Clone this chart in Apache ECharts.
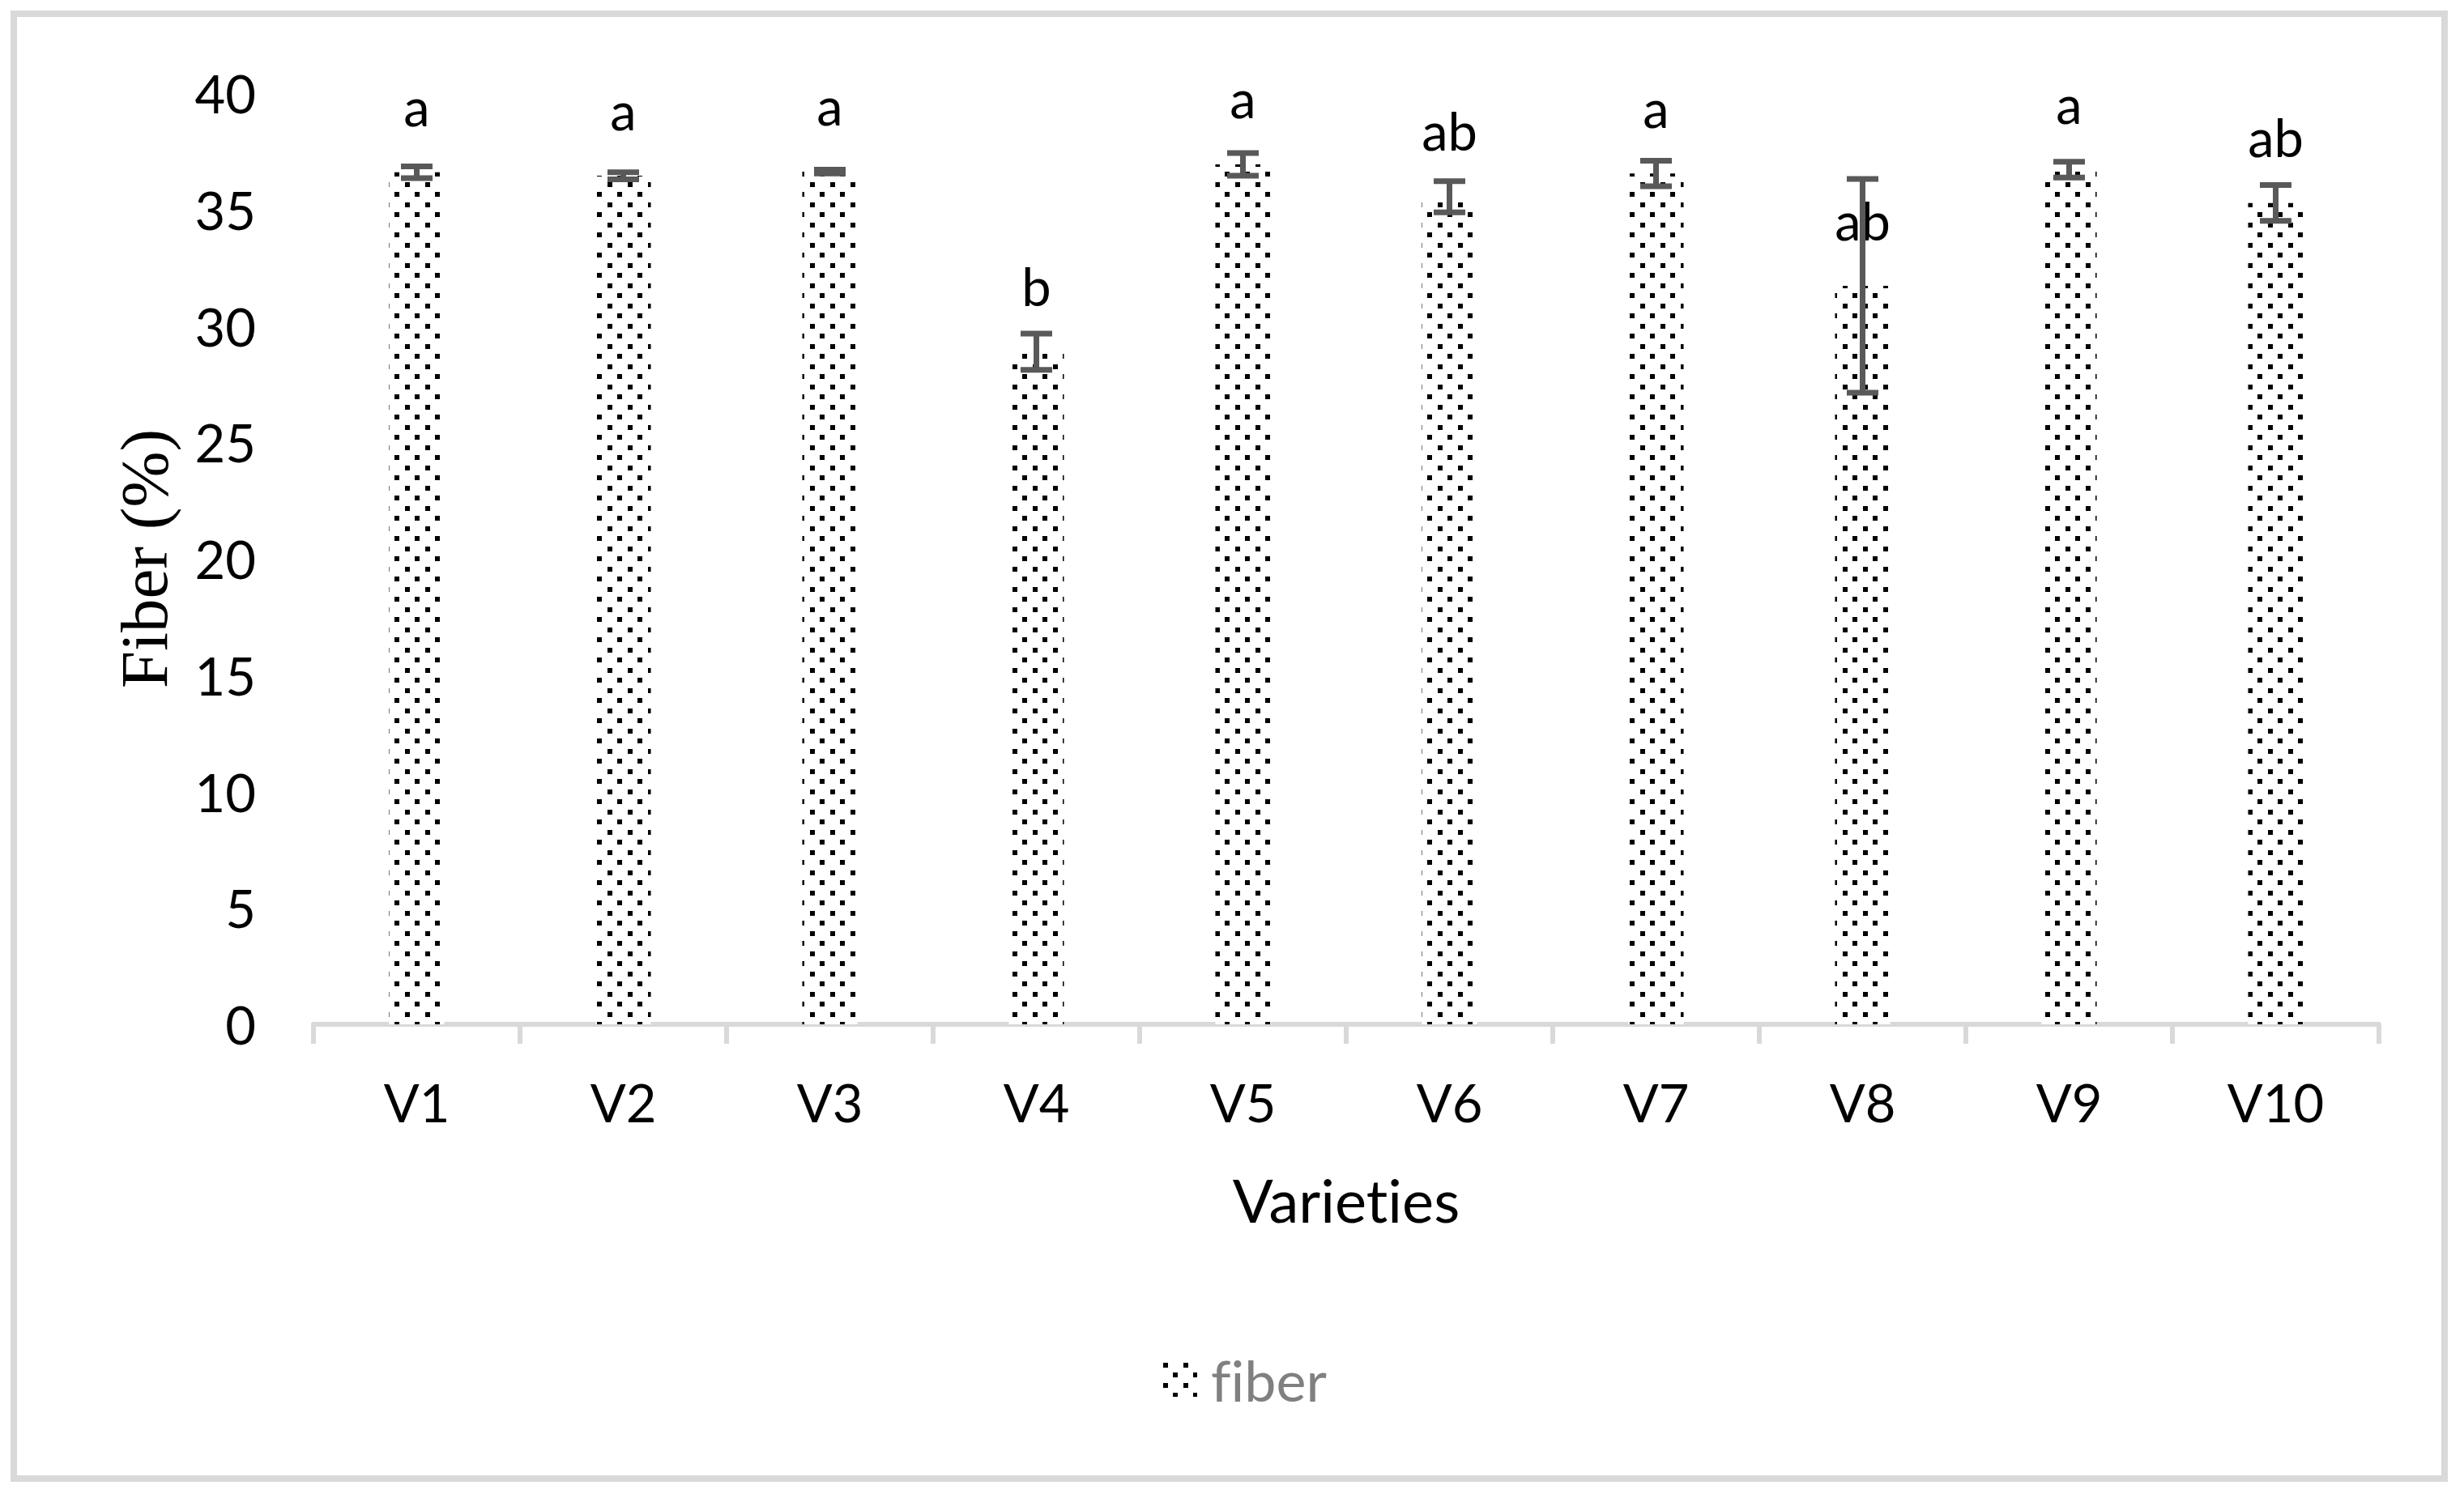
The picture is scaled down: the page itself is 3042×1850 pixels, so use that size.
<!DOCTYPE html>
<html>
<head>
<meta charset="utf-8">
<script src="https://cdn.jsdelivr.net/npm/echarts@6/dist/echarts.min.js"></script>
<style>
html,body{margin:0;padding:0;background:#fff;}
#chart{width:3042px;height:1850px;}
#chart text{font-variant-ligatures:none !important;font-feature-settings:"liga" 0,"clig" 0 !important;}
</style>
</head>
<body>
<div id="chart"></div>
<script>
const categories = ['V1','V2','V3','V4','V5','V6','V7','V8','V9','V10'];
const fiberMeans = [36.60, 36.45, 36.63, 28.89, 36.94, 35.55, 36.55, 31.72, 36.71, 35.28];
const fiberErrors = [0.25, 0.15, 0.08, 0.78, 0.49, 0.67, 0.55, 4.59, 0.34, 0.77];
const groupLetters = ['a','a','a','b','a','ab','a','ab','a','ab'];
const yAxisMin = 0, yAxisMax = 40, yAxisStep = 5;

// dotted fill pattern
const pat = document.createElement('canvas');
pat.width = 25; pat.height = 25;
const pctx = pat.getContext('2d');
pctx.fillStyle = '#ffffff';
pctx.fillRect(0, 0, 25, 25);
pctx.fillStyle = '#000000';
pctx.fillRect(0, 0, 6, 6);
pctx.fillRect(12, 12, 6, 6);
const patURL = pat.toDataURL();

const chart = echarts.init(document.getElementById('chart'), null, {renderer: 'svg'});
const font = 'Lato';
chart.setOption({
  animation: false,
  backgroundColor: '#ffffff',
  graphic: [{
    type: 'rect',
    shape: {x: 17, y: 17, width: 3001, height: 1809},
    style: {fill: 'none', stroke: '#d9d9d9', lineWidth: 8},
    silent: true
  }],
  grid: {left: 387, right: 105, top: 115, bottom: 585},
  legend: {
    data: ['fiber'],
    left: 1431,
    top: 1664,
    icon: 'rect',
    itemWidth: 42,
    itemHeight: 42,
    textStyle: {fontFamily: font, fontSize: 70, color: '#808080', padding: [0, 0, 0, 12]}
  },
  xAxis: {
    type: 'category',
    data: categories,
    name: 'Varieties',
    nameLocation: 'middle',
    nameGap: 179,
    nameTextStyle: {fontFamily: font, fontSize: 74, color: '#000'},
    axisLine: {lineStyle: {color: '#d9d9d9', width: 6}},
    axisTick: {show: true, length: 24, lineStyle: {color: '#d9d9d9', width: 6}},
    axisLabel: {fontFamily: font, fontSize: 65, color: '#000', margin: 63},
    splitLine: {show: false}
  },
  yAxis: {
    type: 'value',
    min: yAxisMin,
    max: yAxisMax,
    interval: yAxisStep,
    name: 'Fiber (%)',
    nameLocation: 'middle',
    nameGap: 168,
    nameTextStyle: {fontFamily: 'Liberation Serif', fontSize: 83, color: '#000'},
    axisLine: {show: false},
    axisTick: {show: false},
    axisLabel: {fontFamily: font, fontSize: 65, color: '#000', margin: 71},
    splitLine: {show: false}
  },
  series: [
    {
      name: 'fiber',
      type: 'bar',
      data: fiberMeans,
      barWidth: '26.7%',
      itemStyle: {color: {image: patURL, repeat: 'repeat'}},
      label: {
        show: true,
        position: 'top',
        distance: 49,
        fontFamily: font,
        fontSize: 65,
        color: '#000',
        formatter: p => groupLetters[p.dataIndex]
      },
      z: 2
    },
    {
      name: 'err',
      type: 'custom',
      data: categories.map((c, i) => [i, fiberMeans[i], fiberErrors[i]]),
      encode: {x: 0, y: 1},
      z: 3,
      renderItem: function (params, api) {
        const x = api.value(0), v = api.value(1), e = api.value(2);
        const t = api.coord([x, v + e]);
        const b = api.coord([x, v - e]);
        const hw = 19.5;
        const st = {stroke: '#595959', lineWidth: 7};
        return {
          type: 'group',
          children: [
            {type: 'line', shape: {x1: t[0], y1: t[1], x2: b[0], y2: b[1]}, style: st},
            {type: 'line', shape: {x1: t[0] - hw, y1: t[1], x2: t[0] + hw, y2: t[1]}, style: st},
            {type: 'line', shape: {x1: b[0] - hw, y1: b[1], x2: b[0] + hw, y2: b[1]}, style: st}
          ]
        };
      }
    }
  ]
});
</script>
</body>
</html>
